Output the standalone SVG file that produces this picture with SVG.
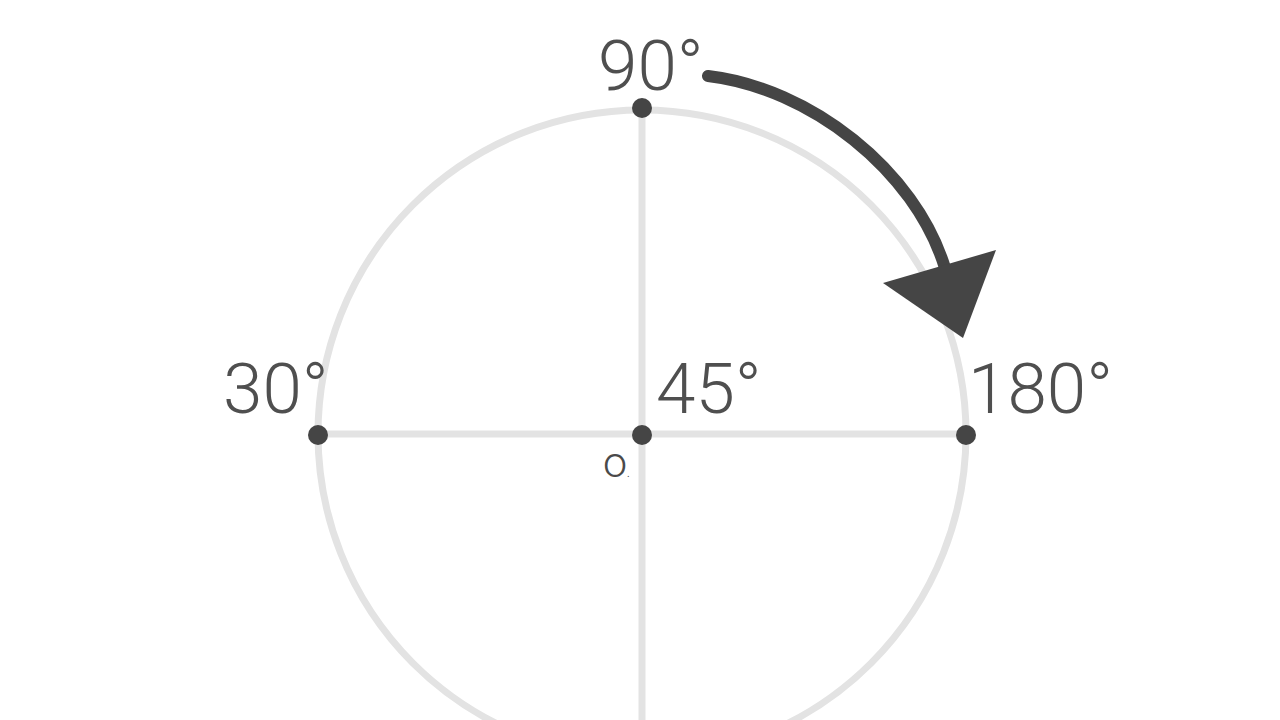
<svg xmlns="http://www.w3.org/2000/svg" width="1280" height="720" viewBox="0 0 1280 720">
<style>
.guide{fill:none;stroke:#e3e3e3;stroke-width:7}
.dot{fill:#454545}
.lbl{font-family:Roboto,"Liberation Sans",sans-serif;font-weight:300;font-size:71px;fill:#4f4f4f}
</style>
<rect width="1280" height="720" fill="#ffffff"/>
<g id="guides">
<circle class="guide" cx="642" cy="434" r="324"/>
<line class="guide" x1="318" y1="434" x2="966" y2="434"/>
<line class="guide" x1="642" y1="108" x2="642" y2="720"/>
</g>
<g id="connectors">
<path d="M708,76 C810,88 915,170 945,268" fill="none" stroke="#454545" stroke-width="12" stroke-linecap="round"/>
<polygon points="883,283 996,250 963,338" fill="#454545"/>
</g>
<g id="n90"><circle class="dot" cx="642" cy="108" r="10"/><text class="lbl" x="598" y="90">90°</text></g>
<g id="n30"><circle class="dot" cx="318" cy="435" r="10"/><text class="lbl" x="223" y="413">30°</text></g>
<g id="n45"><circle class="dot" cx="642" cy="435" r="10"/><text class="lbl" x="656" y="413">45°</text></g>
<g id="n180"><circle class="dot" cx="966" cy="435" r="10"/><text class="lbl" x="968" y="413">180°</text></g>
<g id="origin"><text x="603" y="477" font-family="Roboto,'Liberation Sans',sans-serif" font-weight="300" font-size="43" fill="#4a4a4a">o<tspan font-size="10" font-weight="400">.</tspan></text></g>
</svg>
